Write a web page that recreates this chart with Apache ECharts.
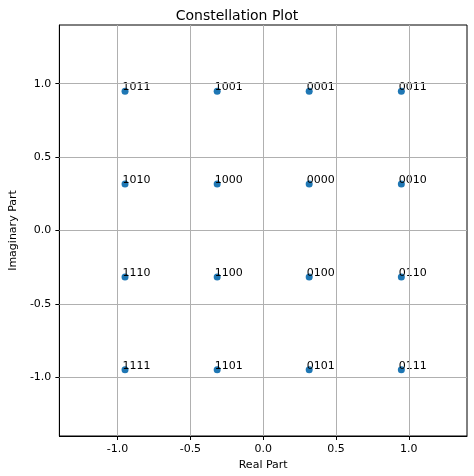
<!DOCTYPE html>
<html><head><meta charset="utf-8">
<script src="https://cdn.jsdelivr.net/npm/echarts@6/dist/echarts.min.js"></script>
<style>html,body{margin:0;padding:0;background:#fff}#c{width:474px;height:476px}</style>
</head><body><div id="c"></div>
<script>
const xs = [-0.949, -0.316, 0.316, 0.949, -0.949, -0.316, 0.316, 0.949, -0.949, -0.316, 0.316, 0.949, -0.949, -0.316, 0.316, 0.949];
const ys = [0.949, 0.949, 0.949, 0.949, 0.316, 0.316, 0.316, 0.316, -0.316, -0.316, -0.316, -0.316, -0.949, -0.949, -0.949, -0.949];
const bits = ['1011','1001','0001','0011','1010','1000','0000','0010','1110','1100','0100','0110','1111','1101','0101','0111'];
const xTicks = [-1.0, -0.5, 0.0, 0.5, 1.0];
const yTicks = [-1.0, -0.5, 0.0, 0.5, 1.0];
const F = 'DejaVu Sans';
const axisCommon = (ticks, name, gap) => ({
  type: 'value', min: -1.4, max: 1.4, name: name, nameLocation: 'middle', nameGap: gap,
  nameTextStyle: {fontFamily: F, fontSize: 11, color: '#000'},
  axisLine: {show: true, onZero: false, lineStyle: {color: '#000', width: 1}},
  axisTick: {show: true, customValues: ticks, length: 4, lineStyle: {color: '#000'}},
  axisLabel: {customValues: ticks, fontFamily: F, fontSize: 11, color: '#000', formatter: v => v.toFixed(1)},
  splitLine: {show: false}
});
const chart = echarts.init(document.getElementById('c'));
chart.setOption({
  animation: false,
  title: {text: 'Constellation Plot', left: 'center', top: 4, textStyle: {fontFamily: F, fontSize: 14, fontWeight: 'normal', color: '#000'}},
  grid: {left: 57, right: 7, top: 25, bottom: 40, show: true, borderColor: '#000', borderWidth: 1},
  xAxis: axisCommon(xTicks, 'Real Part', 24),
  yAxis: axisCommon(yTicks, 'Imaginary Part', 38),
  series: [
    {type: 'line', data: [], silent: true,
     markLine: {symbol: 'none', silent: true, label: {show: false}, lineStyle: {color: '#b0b0b0', width: 1, type: 'solid'},
       data: xTicks.map(v => ({xAxis: v})).concat(yTicks.map(v => ({yAxis: v})))}},
    {type: 'scatter', symbolSize: 7, itemStyle: {color: '#1f77b4', opacity: 1},
     data: xs.map((x, i) => ({value: [x, ys[i]], name: bits[i]})),
     label: {show: true, formatter: p => p.name, position: [1, -6], fontFamily: F, fontSize: 11, color: '#000'}}
  ]
});
</script></body></html>
